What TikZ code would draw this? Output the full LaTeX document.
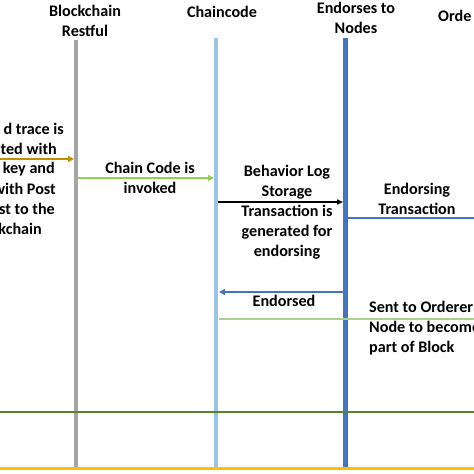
\documentclass[tikz,border=0pt]{standalone}
\usepackage{fontspec}
\setmainfont{Carlito}
\usetikzlibrary{arrows.meta}
\definecolor{lgray}{HTML}{A5A5A5}
\definecolor{lblue}{HTML}{9DC3E6}
\definecolor{dblue}{HTML}{4472C4}
\definecolor{gold}{HTML}{BF9000}
\definecolor{lgreen}{HTML}{92D050}
\definecolor{pgreen}{HTML}{A9D18E}
\definecolor{dgreen}{HTML}{548235}
\definecolor{ylw}{HTML}{FFC000}
\tikzset{
  lbl/.style={font=\fontsize{16.2}{20}\selectfont\bfseries, inner sep=0pt, align=center},
  lftlbl/.style={lbl, anchor=east},
  msg/.style={line width=2bp, -{Triangle[length=6bp,width=6bp]}},
  plain/.style={line width=2bp},
}
\begin{document}
\begin{tikzpicture}[x=1bp,y=-1bp]
\useasboundingbox (0,0) rectangle (474,474);
\clip (0,0) rectangle (474,474);
% headers
\node[lbl] (h1) at (85,21) {Blockchain\\Restful};
\node[lbl] (h2) at (222,12) {Chaincode};
\node[lbl] (h3) at (356,18) {Endorses to\\Nodes};
\node[lbl, anchor=west] (h4) at (438,16) {Orde};
% lifelines
\coordinate (gt) at (76,40); \coordinate (gb) at (76,468);
\coordinate (lt) at (216,38); \coordinate (lb) at (216,468);
\coordinate (bt) at (345,38); \coordinate (bb) at (345,468);
\draw[lgray, line width=4bp] (gt) -- (gb);
\draw[lblue, line width=4.5bp] (lt) -- (lb);
\draw[dblue, line width=5bp] (bt) -- (bb);
% left text fragments
\node[lftlbl] (l1) at (64,129) {d trace is};
\node[lftlbl] (l2) at (57,149) {ted with};
\node[lftlbl] (l3) at (55,169) {key and};
\node[lftlbl] (l4) at (56,189) {with Post};
\node[lftlbl] (l5) at (55,209) {st to the};
\node[lftlbl] (l6) at (42,229) {kchain};
% gold arrow
\coordinate (a1s) at (0,159); \coordinate (a1e) at (74,159);
\draw[msg, gold] (a1s) -- (a1e);
% green arrow
\coordinate (a2s) at (78,178); \coordinate (a2e) at (214,178);
\draw[msg, lgreen] (a2s) -- (a2e);
\node[lbl] (t2) at (150,178) {Chain Code is\\invoked};
% black arrow
\coordinate (a3s) at (218,202); \coordinate (a3e) at (343,202);
\draw[black, line width=1.5bp, -{Triangle[length=6bp,width=5bp]}] (a3s) -- (a3e);
\node[lbl] (t3) at (287,212) {Behavior Log\\Storage\\Transaction is\\generated for\\endorsing};
% blue endorsing line
\coordinate (a4s) at (348,218); \coordinate (a4e) at (474,218);
\draw[plain, dblue] (a4s) -- (a4e);
\node[lbl] (t4) at (417,199) {Endorsing\\Transaction};
% endorsed arrow
\coordinate (a5s) at (345,292); \coordinate (a5e) at (219,292);
\draw[msg, dblue] (a5s) -- (a5e);
\node[lbl] (t5) at (284,301) {Endorsed};
% pale green line
\coordinate (a6s) at (219,319); \coordinate (a6e) at (474,319);
\draw[pgreen, line width=1.5bp] (a6s) -- (a6e);
\node[lbl, align=left, anchor=west] (t6) at (369,328) {Sent to Orderer\\Node to become\\part of Block};
% bottom lines
\coordinate (g1) at (0,412); \coordinate (g2) at (474,412);
\draw[dgreen, line width=2bp] (g1) -- (g2);
\coordinate (y1) at (0,468); \coordinate (y2) at (474,468);
\draw[ylw, line width=3bp] (y1) -- (y2);
\end{tikzpicture}
\end{document}
